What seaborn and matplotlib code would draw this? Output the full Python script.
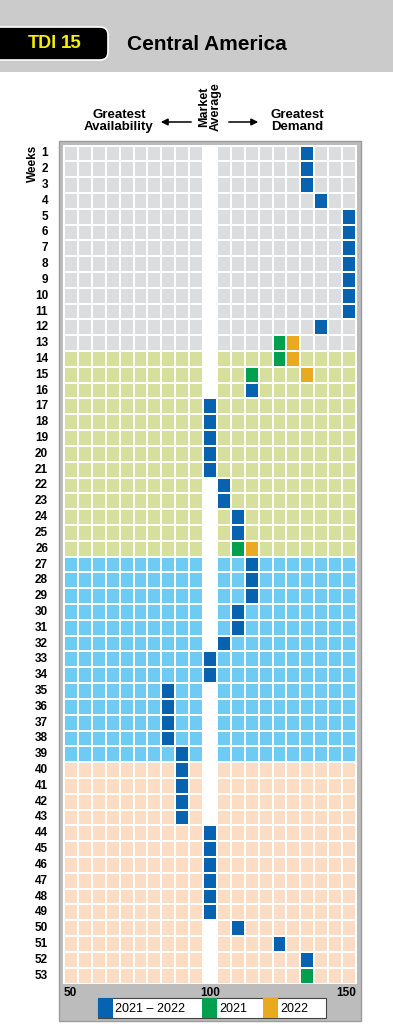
import numpy as np
import pandas as pd
import seaborn as sns
import matplotlib
matplotlib.use("Agg")
from matplotlib import pyplot as plt
from matplotlib.colors import ListedColormap
from matplotlib.patches import Rectangle, FancyBboxPatch

# --- data (index values, 50 .. 150 in steps of 5) ---
weeks = list(range(1, 54))
avg_2021_2022 = [135, 135, 135, 140, 150, 150, 150, 150, 150, 150, 150, 140, None,
                 None, None, 115, 100, 100, 100, 100, 100, 105, 105, 110, 110, None,
                 115, 115, 115, 110, 110, 105, 100, 100, 85, 85, 85, 85, 90,
                 90, 90, 90, 90, 100, 100, 100, 100, 100, 100, 110, 125, 135, None]
idx_2021 = {13: 125, 14: 125, 15: 115, 26: 110, 53: 135}
idx_2022 = {13: 130, 14: 130, 15: 135, 26: 115}
season_weeks = [(1, 13), (14, 26), (27, 39), (40, 53)]
col_values = list(range(50, 155, 5))

# colours: 0 white, 1-4 season backgrounds, 5-7 markers
palette = ["#ffffff", "#dcdddf", "#d6e09c", "#6ecbf3", "#fddcc4",
           "#0762b0", "#00a04e", "#e9aa22"]

# build the cell matrix
mat = np.zeros((len(weeks), len(col_values)), dtype=int)
for s, (a, b) in enumerate(season_weeks):
    mat[a - 1:b, :] = s + 1
mat[:, col_values.index(100)] = 0
for w, v in zip(weeks, avg_2021_2022):
    if v is not None:
        mat[w - 1, col_values.index(v)] = 5
for w, v in idx_2021.items():
    mat[w - 1, col_values.index(v)] = 6
for w, v in idx_2022.items():
    mat[w - 1, col_values.index(v)] = 7
df = pd.DataFrame(mat, index=weeks, columns=col_values)

plt.rcParams['font.family'] = ['Liberation Sans', 'DejaVu Sans']
W, H = 393, 1028
fig = plt.figure(figsize=(W / 100, H / 100), dpi=100)

# background axes in pixel coordinates for the decorations
bg = fig.add_axes([0, 0, 1, 1])
bg.set_xlim(0, W)
bg.set_ylim(H, 0)
bg.axis("off")

# header band
bg.add_patch(Rectangle((0, 0), W, 72, color="#cbcbcb", lw=0))
bg.add_patch(FancyBboxPatch((-20, 27), 128, 33, boxstyle="round,pad=0,rounding_size=8",
                            fc="black", ec="white", lw=1.2))
bg.text(28, 44, "TDI", color="#f5ef00", fontsize=13, fontweight="bold", va="center", ha="left")
bg.text(61, 44, "15", color="#f5ef00", fontsize=13.5, fontweight="bold", va="center", ha="left")
bg.text(127, 45, "Central America", fontsize=15, fontweight="bold", va="center", ha="left")

# frame around the grid
bg.add_patch(Rectangle((59, 141), 302, 880, fc="#bcbcbc", ec="#9c9c9c", lw=1))
bg.add_patch(Rectangle((63, 145), 294, 838.5, fc="white", lw=0))

# direction labels
bg.text(119, 121, "Greatest\nAvailability", fontsize=9.5, fontweight="bold",
        ha="center", va="center", linespacing=1.0)
bg.text(297, 121, "Greatest\nDemand", fontsize=9.5, fontweight="bold",
        ha="center", va="center", linespacing=1.0)
bg.text(210, 107, "Market\nAverage", fontsize=9, fontweight="bold", rotation=90,
        ha="center", va="center", linespacing=0.95)
bg.annotate("", xy=(158, 122), xytext=(194, 122),
            arrowprops=dict(arrowstyle="-|>", color="black", lw=1.1, mutation_scale=10))
bg.annotate("", xy=(261, 122), xytext=(226, 122),
            arrowprops=dict(arrowstyle="-|>", color="black", lw=1.1, mutation_scale=10))
bg.text(33, 163, "Weeks", fontsize=8.5, fontweight="bold", rotation=90, ha="center", va="center")

# legend
bg.add_patch(Rectangle((98, 998), 228, 20, fc="white", ec="#444444", lw=0.8))
leg = [("2021 \u2013 2022", palette[5], 98), ("2021", palette[6], 202), ("2022", palette[7], 263)]
for lab, c, x0 in leg:
    bg.add_patch(Rectangle((x0, 998), 15, 20, fc=c, lw=0))
    bg.text(x0 + 17, 1008.5, lab, fontsize=9, ha="left", va="center")

# the grid itself
ax = fig.add_axes([64 / W, (H - 983.5) / H, 292 / W, 838 / H])
sns.heatmap(df, cmap=ListedColormap(palette), vmin=-0.5, vmax=7.5, cbar=False,
            linewidths=1.4, linecolor="white", ax=ax,
            xticklabels=False, yticklabels=weeks)
ax.set_xlabel("")
ax.set_ylabel("")
ax.tick_params(axis="y", length=0, pad=11.5, labelsize=8.5, rotation=0)
for t in ax.get_yticklabels():
    t.set_fontweight("bold")
ax.set_xticks([0, 10.5, 21])
ax.set_xticklabels(["50", "100", "150"], fontsize=8.5, fontweight="bold")
ax.tick_params(axis="x", length=0, pad=2.5)
xt = ax.get_xticklabels()
xt[0].set_ha("left")
xt[2].set_ha("right")

fig.savefig("out.png", dpi=100)
